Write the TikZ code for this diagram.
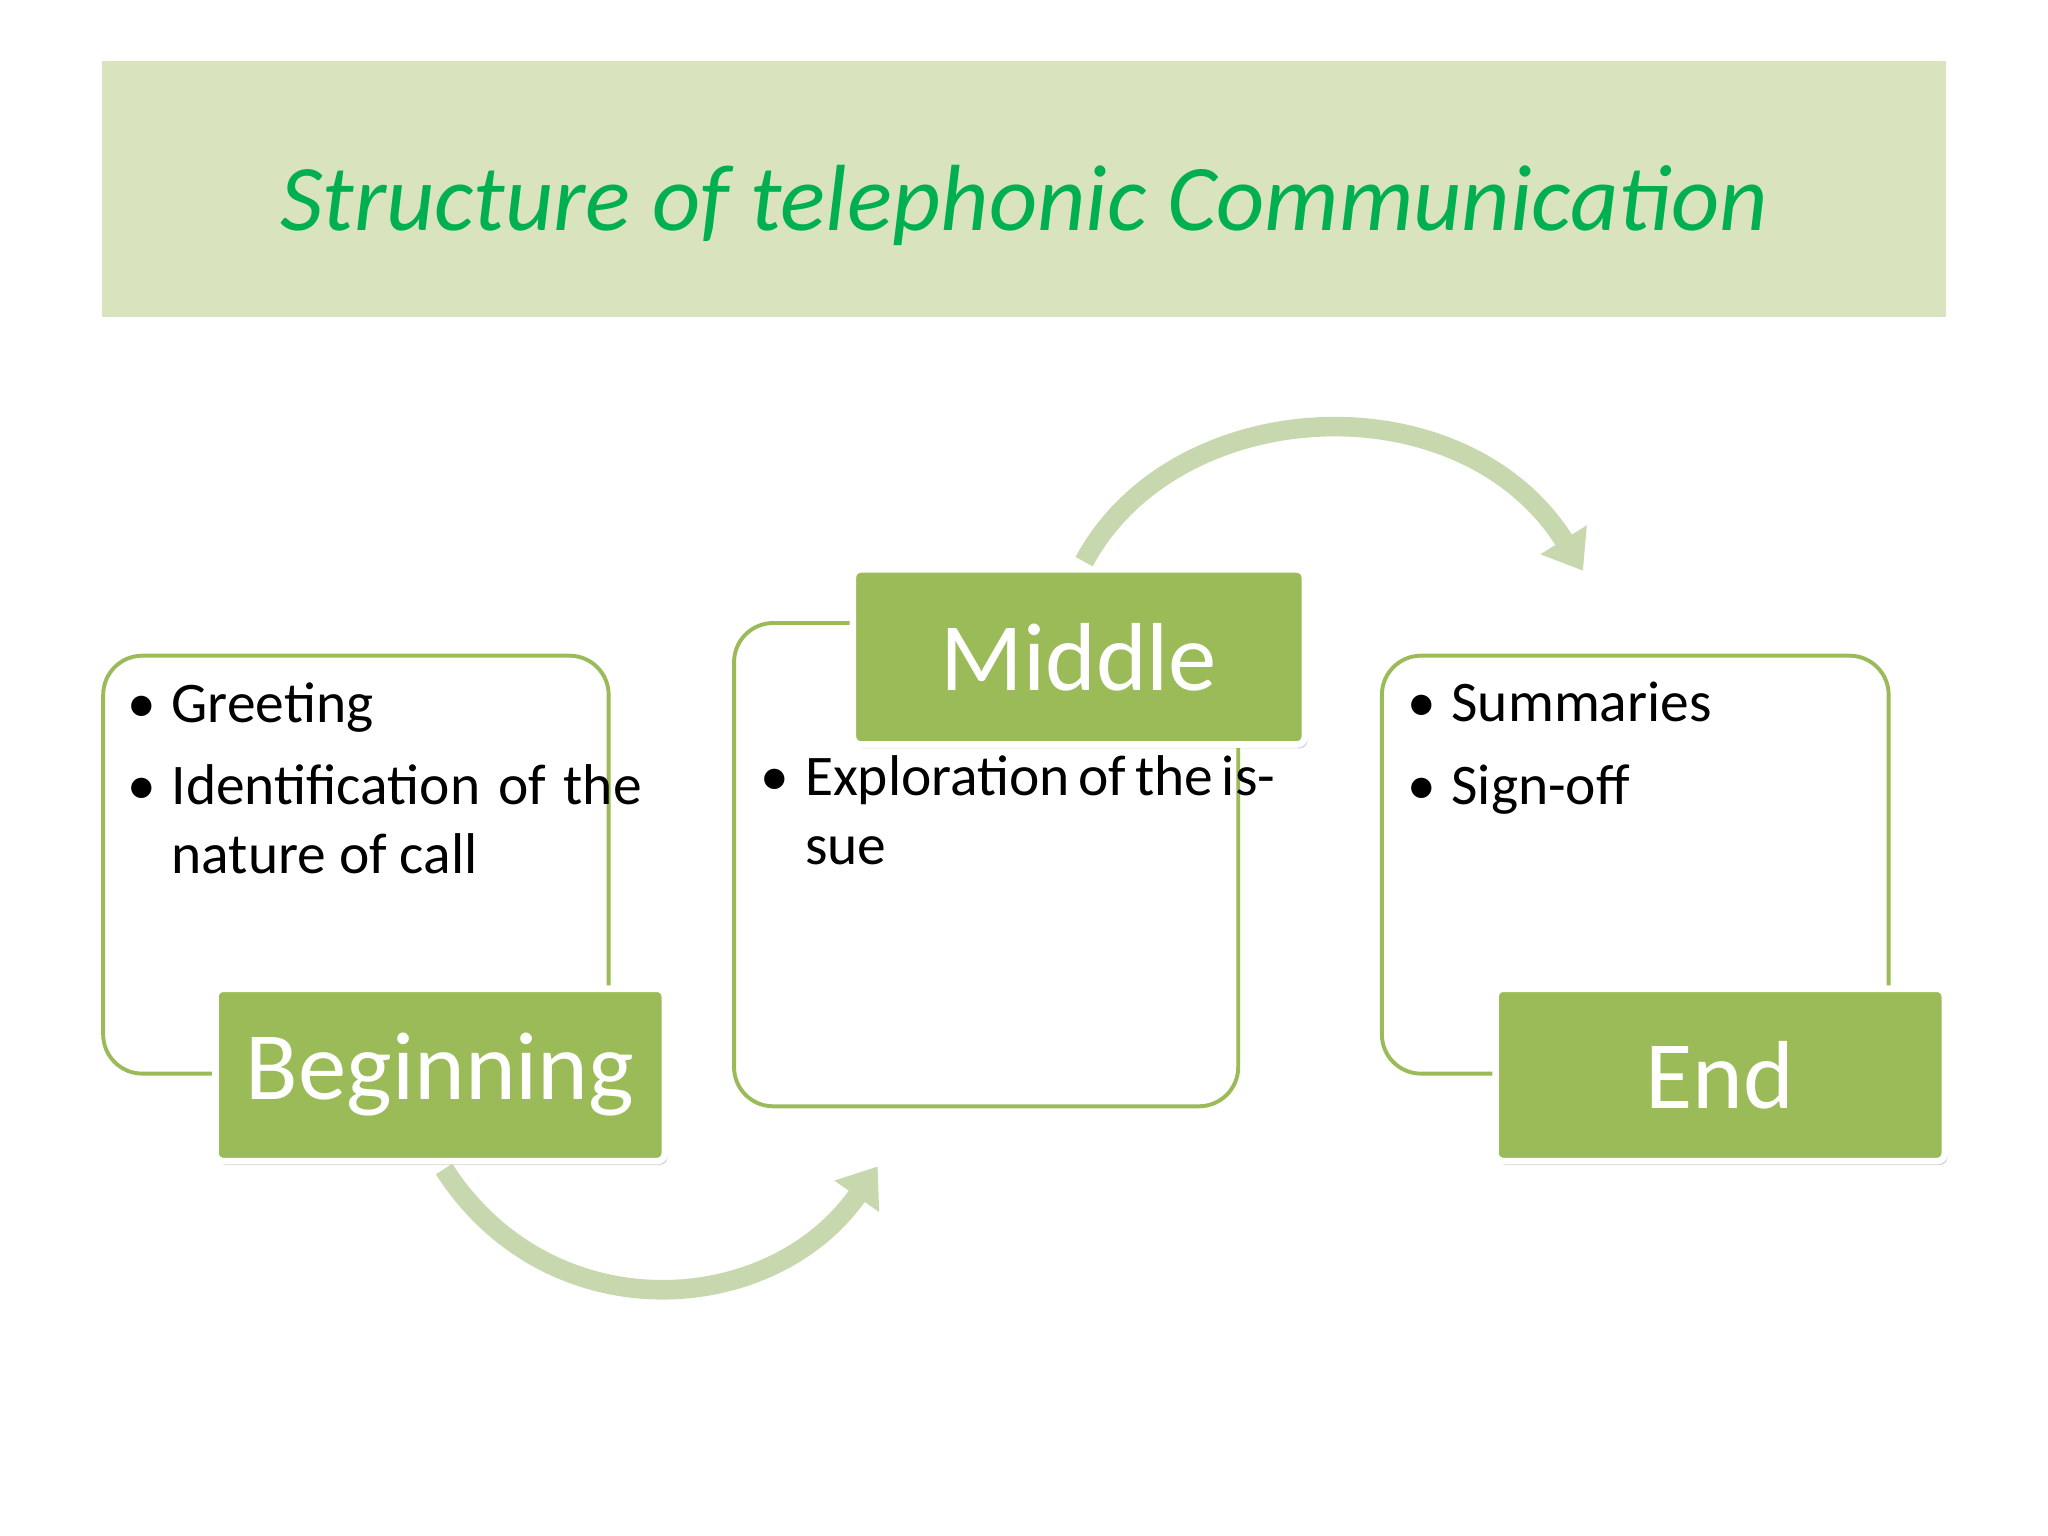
\documentclass[tikz,border=0pt]{standalone}
\usepackage{fontspec}
\setmainfont{Carlito}
\usetikzlibrary{arrows.meta,shadows}
\definecolor{tbg}{HTML}{D9E4BF}
\definecolor{ttx}{HTML}{00B050}
\definecolor{gr}{HTML}{9BBB59}
\definecolor{arr}{HTML}{C8D8AE}
\tikzset{
 outer/.style={draw=gr,line width=1.5pt,rounded corners=15pt,fill=white},
 lbl/.style={draw=white,line width=2.5pt,fill=gr,rounded corners=3pt,drop shadow={shadow xshift=1pt,shadow yshift=-1.5pt,opacity=0.35},text=white,font=\fontsize{37}{40}\selectfont},
 bl/.style={anchor=north west,align=left,font=\fontsize{22}{26.5}\selectfont,inner sep=0pt},
 carrow/.style={draw=arr,line width=7.5pt,-{Triangle[length=14pt,width=20pt]}}
}
\newcommand{\bitem}[1]{\makebox[17pt][l]{\textbullet}\parbox[t]{180pt}{#1}}
\begin{document}
\begin{tikzpicture}[x=0.5pt,y=-0.5pt]
\useasboundingbox (0,0) rectangle (1568,1176);
\fill[tbg] (78,47) rectangle (1490,243);
\node[text=ttx,font=\itshape\fontsize{36}{40}\selectfont] (title) at (784,157) {Structure of telephonic Communication};
% arrows
\coordinate (a1) at (340,895); \coordinate (a2) at (672,893);
\draw[carrow] (a1) .. controls (420,1020) and (590,1010) .. (a2);
\coordinate (b1) at (830,430); \coordinate (b2) at (1212,437);
\draw[carrow] (b1) .. controls (900,300) and (1120,290) .. (b2);
% boxes
\draw[outer] (79,502) rectangle (466,822);
\draw[outer] (562,477) rectangle (948,847);
\draw[outer] (1058,502) rectangle (1446,822);
\node[lbl,minimum width=172pt,minimum height=66pt] (beg) at (337,823) {Beginning};
\node[lbl,minimum width=173pt,minimum height=67pt] (mid) at (826,503) {Middle};
\node[lbl,minimum width=172pt,minimum height=66pt] (end) at (1317,823) {End};
\node[bl] (lt) at (97,522) {\bitem{Greeting}\\[5pt]\bitem{Identification of the nature of call}};
\node[bl] (mt) at (582,578) {\bitem{Exploration of the issue}};
\node[bl] (rt) at (1077,522) {\bitem{Summaries}\\[5pt]\bitem{Sign-off}};
\end{tikzpicture}
\end{document}
